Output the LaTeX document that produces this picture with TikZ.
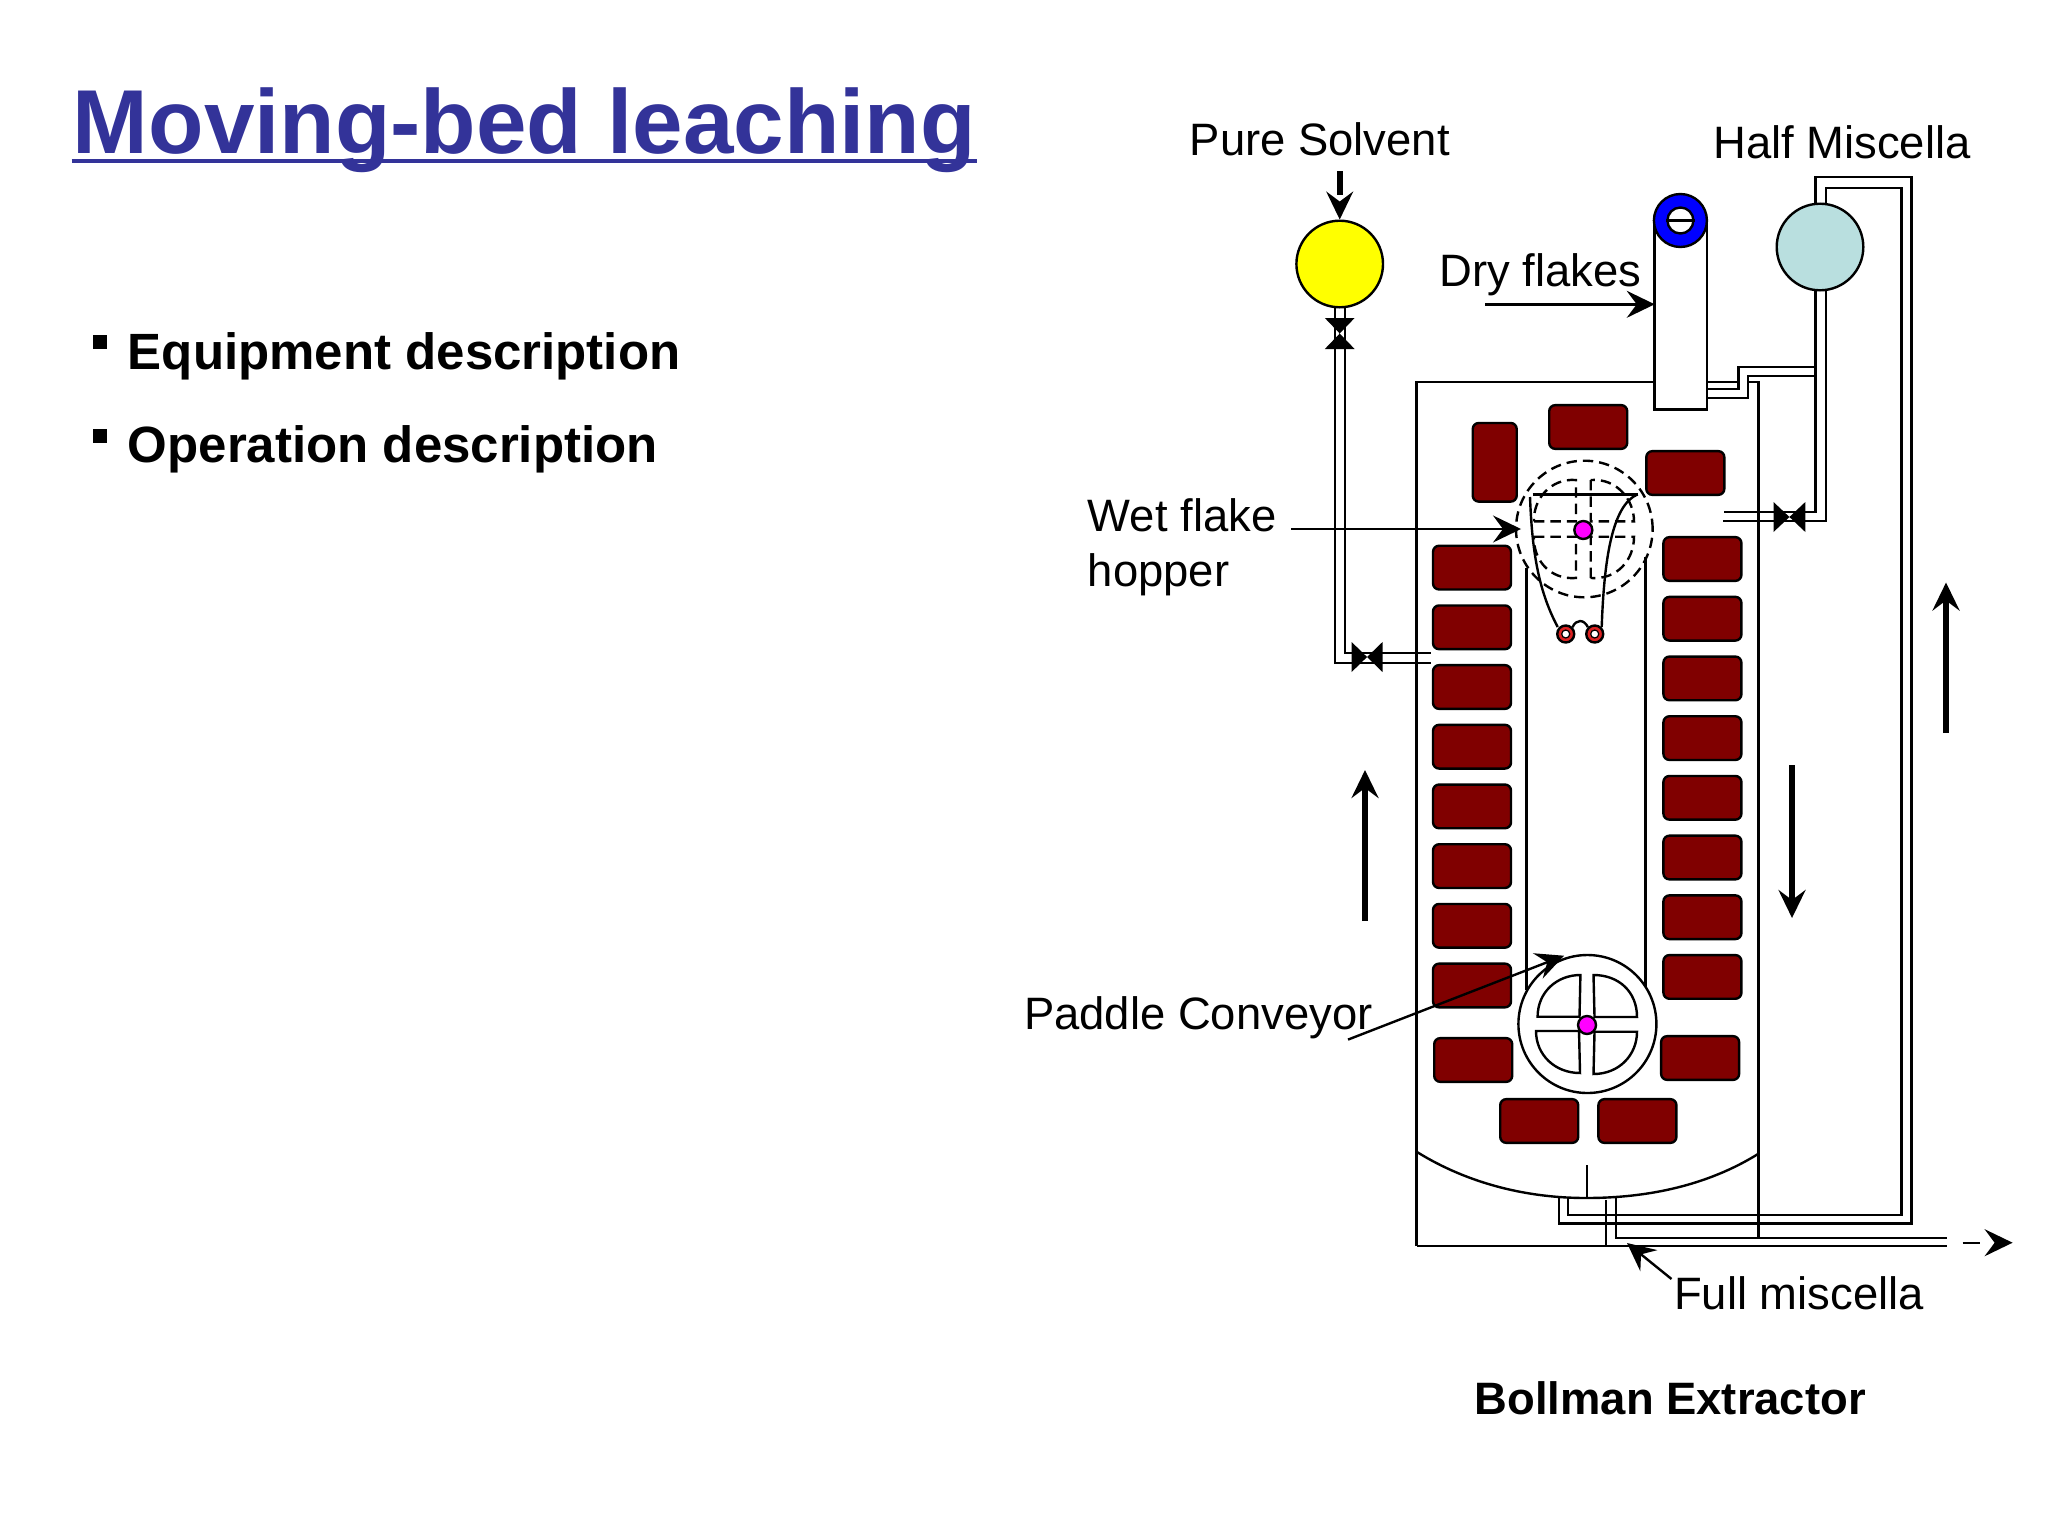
\documentclass[tikz,border=0pt]{standalone}
\usepackage{fontspec}
\setmainfont{Liberation Sans}
\usepackage{tikz}
\usetikzlibrary{arrows.meta, positioning}
\definecolor{titleblue}{HTML}{333399}
\definecolor{brickred}{HTML}{800000}
\definecolor{palecyan}{HTML}{B9DFDF}
\definecolor{hubpink}{HTML}{FF00FF}
\definecolor{tankyellow}{HTML}{FFFF00}
\definecolor{feedblue}{HTML}{0000FF}
\definecolor{ringred}{HTML}{DD2222}

\begin{document}
\begin{tikzpicture}[x=0.5pt, y=-0.5pt, >={Stealth[length=14pt, width=13.5pt, inset=5pt]}, line width=1.2pt, node distance=8pt]
        \tikzstyle{caption} = [anchor=base west, inner sep=0pt, font=\fontsize{22.7}{27}\selectfont]
        \tikzstyle{boldcaption} = [caption, font=\fontsize{22.7}{27}\selectfont\bfseries]
        \tikzstyle{heading} = [anchor=base west, inner sep=0pt, font=\fontsize{25.5}{30}\selectfont\bfseries]
        \tikzstyle{bullet} = [fill=black, inner sep=0pt, minimum size=7pt]
        \tikzstyle{brick} = [draw, fill=brickred, rounded corners=3pt, outer sep=0pt, minimum width=39pt, minimum height=21.85pt]
        \tikzstyle{tank} = [circle, draw, inner sep=0pt, minimum size=43.3pt]
        \tikzstyle{hub} = [circle, draw, fill=hubpink, inner sep=0pt, minimum size=9pt]
        \tikzstyle{ring} = [circle, draw=black, fill=ringred, inner sep=0pt, minimum size=8.5pt]
        \tikzstyle{eye} = [circle, draw=black, line width=0.6pt, fill=white, inner sep=0pt, minimum size=4pt]
        \tikzstyle{thick arrow} = [->, line width=2.8pt]
        \tikzstyle{dash line} = [dash pattern=on 5.2pt off 3pt]

        \useasboundingbox (0,0) rectangle (2048,1536);

        \node[anchor=base west, inner sep=0pt, text=titleblue, font=\fontsize{45.4}{54}\selectfont\bfseries](title) at (71.7,154) {Moving-bed leaching};
        \draw[titleblue, line width=2.2pt] ([yshift=-3.5pt]title.base west) -- ([yshift=-3.5pt]title.base east);
        \node[bullet](bullet_1) at (100,341.5) {};
        \node[heading](equipment) at (126.7,369.6) {Equipment description};
        \node[bullet](bullet_2) at (100,435.5) {};
        \node[heading](operation) at (126.7,462.6) {Operation description};

        \draw (1416.5,1246) -- (1416.5,381.7) -- (1655,381.7);
        \draw (1748.2,381.7) -- (1758.5,381.7) -- (1758.5,1237);
        \draw (1416.5,1246) -- (1947,1246);
        \draw (1526.3,568) -- (1526.3,990);
        \draw (1645.6,557) -- (1645.6,987);
        \draw (1416.5,1151.7) .. controls (1470,1185) and (1530,1198) .. (1586,1198) .. controls (1649,1198) and (1708,1185) .. (1758,1154);
        \draw (1586.7,1165) -- (1586.7,1197);

        \node[tank, fill=tankyellow](solvent_tank) at (1339.7,264) {};
        \node[tank, fill=palecyan](half_tank) at (1820,247) {};
        \node[draw, fill=white, inner sep=0pt, minimum width=26.05pt, minimum height=94pt](feed_leg) at (1680.7,315.5) {};
        \node[circle, draw, fill=feedblue, inner sep=0pt, minimum size=26.5pt](feed_top) at (1680.4,220.5) {};
        \node[circle, draw, fill=white, inner sep=0pt, minimum size=13pt](feed_eye) at (feed_top) {};
        \draw (feed_eye.west) -- (feed_eye.east);

        \draw (1334.7,306) -- (1334.7,662.7) -- (1431.2,662.7);
        \draw (1344.7,306) -- (1344.7,653) -- (1431.2,653);
        \draw (1815.3,290) -- (1815.3,511.7) -- (1723.8,511.7);
        \draw (1825.7,290) -- (1825.7,521) -- (1722.8,521);
        \draw (1815.3,204) -- (1815.3,177) -- (1911.4,177) -- (1911.4,1223.3) -- (1558.9,1223.3) -- (1558.9,1197);
        \draw (1825.7,204) -- (1825.7,187.7) -- (1901.5,187.7) -- (1901.5,1215) -- (1568,1215) -- (1568,1197.5);
        \draw (1815.3,366.7) -- (1738.4,366.7) -- (1738.4,389) -- (1706.8,389);
        \draw (1815.3,375.7) -- (1748.2,375.7) -- (1748.2,398) -- (1706.8,398);
        \draw (1706.8,381.7) -- (1738.4,381.7);
        \draw (1616,1198) -- (1616,1237.7) -- (1947,1237.7);
        \draw (1606,1200) -- (1606,1246);

        \fill (1324.8,318) -- (1354.6,318) -- (1324.8,349) -- (1354.6,349) -- cycle;
        \fill (1351.6,642) -- (1351.6,672) -- (1382.5,642) -- (1382.5,672) -- cycle;
        \fill (1773.5,502) -- (1773.5,532) -- (1805.3,502) -- (1805.3,532) -- cycle;

        \node[brick, minimum width=22pt, minimum height=39.3pt](brick_tall) at (1494.7,462.3) {};
        \node[brick](brick_top) at (1588.2,427) {};
        \node[brick](brick_corner) at (1685.3,473) {};

        \node[brick](left_1) at (1472,567.6) {};
        \node[brick](left_2) [below=of left_1] {};
        \node[brick](left_3) [below=of left_2] {};
        \node[brick](left_4) [below=of left_3] {};
        \node[brick](left_5) [below=of left_4] {};
        \node[brick](left_6) [below=of left_5] {};
        \node[brick](left_7) [below=of left_6] {};
        \node[brick](left_8) [below=of left_7] {};

        \node[brick](right_1) at (1702.4,559) {};
        \node[brick](right_2) [below=of right_1] {};
        \node[brick](right_3) [below=of right_2] {};
        \node[brick](right_4) [below=of right_3] {};
        \node[brick](right_5) [below=of right_4] {};
        \node[brick](right_6) [below=of right_5] {};
        \node[brick](right_7) [below=of right_6] {};
        \node[brick](right_8) [below=of right_7] {};

        \node[brick](bottom_left) at (1473.2,1060) {};
        \node[brick](bottom_right) at (1700.1,1058) {};
        \node[brick](base_left) at (1539.2,1121) {};
        \node[brick](base_right) at (1637.4,1121) {};

        \node[circle, draw, dash line, inner sep=0pt, minimum size=68.3pt](drum) at (1584.3,529) {};
        \draw[dash line] (1534,521.3) -- (1576,521.3) -- (1576,480) .. controls (1550,478) and (1533,500) .. (1534,521.3);
        \draw[dash line] (1590.7,480) -- (1590.7,521.3) -- (1634,521.3) .. controls (1634,500) and (1617,478) .. (1590.7,480);
        \draw[dash line] (1534,536.7) -- (1576,536.7) -- (1576,578) .. controls (1550,580) and (1533,560) .. (1534,536.7);
        \draw[dash line] (1590.7,578) -- (1590.7,536.7) -- (1634,536.7) .. controls (1634,560) and (1617,580) .. (1590.7,578);
        \node[hub](drum_hub) at (1583.3,530) {};

        \node[ring](ring_left) at (1565.7,634) {};
        \node[ring](ring_right) at (1594.7,634) {};
        \node[eye](eye_left) at (ring_left) {};
        \node[eye](eye_right) at (ring_right) {};
        \draw (1532.7,494.3) -- (1637.7,494.3);
        \draw (1530,497) .. controls (1532,550) and (1538,590) .. (1557.7,627);
        \draw (1637.7,494.3) .. controls (1612,505) and (1604,560) .. (1601.7,627);
        \draw (ring_left.north east) .. controls (1576,619) and (1584,619) .. (ring_right.north west);

        \node[circle, draw, fill=white, inner sep=0pt, minimum size=69pt](paddle_wheel) at (1587.4,1024) {};
        \draw (1579.5,1016.7) -- (1537.6,1016.7) .. controls (1537.6,992) and (1557,975) .. (1580.4,975) -- cycle;
        \draw (1593.5,975) .. controls (1619,975) and (1637,992) .. (1637,1017) -- (1594.5,1017) -- cycle;
        \draw (1579,1031) -- (1536,1031) .. controls (1536,1055) and (1555,1073) .. (1580,1073) -- cycle;
        \draw (1594.5,1031.7) -- (1637,1031.7) .. controls (1637,1055) and (1619,1074) .. (1593.5,1074) -- cycle;
        \node[hub](paddle_hub) at (1587,1025) {};

        \node[caption](pure_solvent) at (1188.7,155.5) {Pure Solvent};
        \node[caption](half_miscella) at (1712,158) {Half Miscella};
        \node[caption](dry_flakes) at (1438.5,286) {Dry flakes};
        \node[caption](wet_flake) at (1086.7,531.6) {Wet flake};
        \node[caption](wet_hopper) at (1086.7,586) {hopper};
        \node[caption](paddle_conveyor) at (1023,1029) {Paddle Conveyor};
        \node[caption](full_miscella) at (1673,1309) {Full miscella};
        \node[boldcaption](bollman) at (1473.5,1414.5) {Bollman Extractor};

        \coordinate (solvent_in) at (1339.7,171);
        \coordinate (solvent_neck) at (1339.7,195);
        \coordinate (solvent_head) at (1339.7,207);
        \coordinate (flakes_in) at (1485,304.3);
        \coordinate (flakes_end) at (1654.7,304.3);
        \coordinate (wet_in) at (1291.4,529);
        \coordinate (wet_end) at (1521,529);
        \coordinate (paddle_in) at (1348,1039.6);
        \coordinate (paddle_end) at (1564,955.7);
        \coordinate (full_in) at (1671.5,1279);
        \coordinate (full_end) at (1627,1243);
        \coordinate (out_in) at (1962.5,1242.7);
        \coordinate (out_neck) at (1980,1242.7);
        \coordinate (out_head) at (1997,1242.7);
        \coordinate (out_end) at (2012.6,1242.7);
        \coordinate (left_up_in) at (1365,921);
        \coordinate (left_up_end) at (1365,770);
        \coordinate (mid_down_in) at (1792,765);
        \coordinate (mid_down_end) at (1792,918);
        \coordinate (right_up_in) at (1946,733);
        \coordinate (right_up_end) at (1946,582.5);

        \path[->] (flakes_in) edge (flakes_end)
              (wet_in) edge (wet_end)
              (paddle_in) edge (paddle_end)
              (full_in) edge (full_end)
              (out_head) edge (out_end)
              (solvent_head) edge (solvent_tank.north);
        \draw[line width=2.8pt] (solvent_in) -- (solvent_neck);
        \draw (out_in) -- (out_neck);
        \path[thick arrow] (left_up_in) edge (left_up_end)
              (mid_down_in) edge (mid_down_end)
              (right_up_in) edge (right_up_end);
    \end{tikzpicture}
\end{document}
